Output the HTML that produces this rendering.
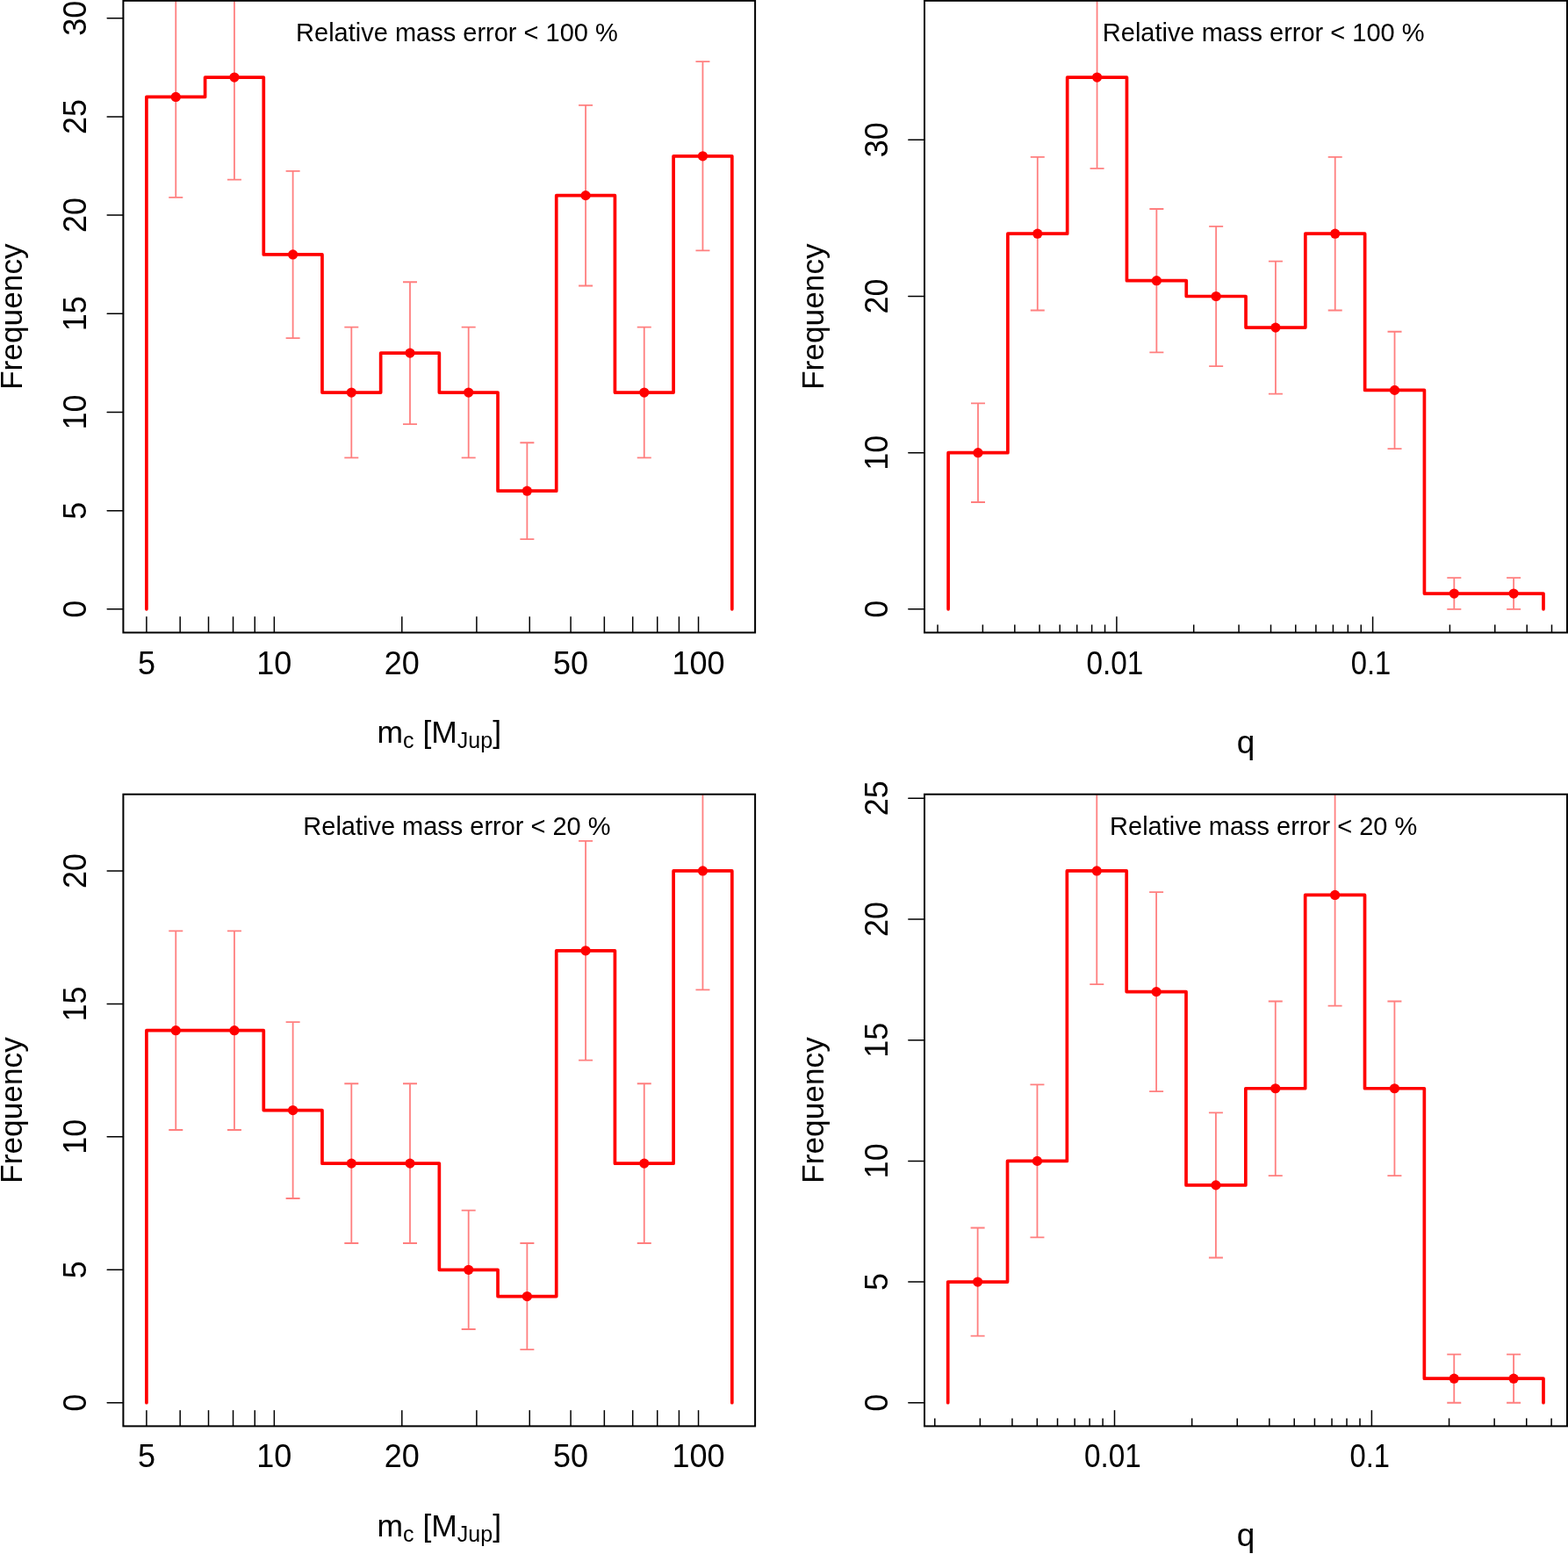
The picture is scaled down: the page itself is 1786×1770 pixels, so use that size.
<!DOCTYPE html>
<html><head><meta charset="utf-8"><title>Histograms</title>
<style>
html,body{margin:0;padding:0;background:#fff;}
body{width:1786px;height:1770px;overflow:hidden;}
svg{display:block;}
</style></head><body>
<svg width="1786" height="1770" viewBox="0 0 1786 1770" font-family="'Liberation Sans', Arial, Helvetica, sans-serif" fill="#000">
<clipPath id="c0"><rect x="140.4" y="0.8" width="719.7" height="719.7"/></clipPath>
<g clip-path="url(#c0)" stroke="rgba(255,0,0,0.5)" stroke-width="1.8" fill="none">
<path d="M200.25 224.88V-3.93M192.25 224.88H208.25M192.25 -3.93H208.25"/>
<path d="M266.94 204.62V-28.55M258.94 204.62H274.94M258.94 -28.55H274.94"/>
<path d="M333.62 385.17V194.78M325.62 385.17H341.62M325.62 194.78H341.62"/>
<path d="M400.31 521.45V372.62M392.31 521.45H408.31M392.31 372.62H408.31"/>
<path d="M467 483.06V321.26M459 483.06H475M459 321.26H475"/>
<path d="M533.69 521.45V372.62M525.69 521.45H541.69M525.69 372.62H541.69"/>
<path d="M600.38 614.18V504.26M592.38 614.18H608.38M592.38 504.26H608.38"/>
<path d="M667.07 325.48V119.84M659.07 325.48H675.07M659.07 119.84H675.07"/>
<path d="M733.76 521.45V372.62M725.76 521.45H741.76M725.76 372.62H741.76"/>
<path d="M800.45 285.39V70.18M792.45 285.39H808.45M792.45 70.18H808.45"/>
</g>
<path d="M166.9 693.84V110.47H233.59V88.04H300.28V289.97H366.97V447.03H433.66V402.16H500.35V447.03H567.04V559.22H633.73V222.66H700.42V447.03H767.11V177.79H833.8V693.84" stroke="#ff0000" stroke-width="3.7" fill="none" stroke-linejoin="round" stroke-linecap="round"/>
<circle cx="200.25" cy="110.47" r="5.6" fill="#ff0000"/>
<circle cx="266.94" cy="88.04" r="5.6" fill="#ff0000"/>
<circle cx="333.62" cy="289.97" r="5.6" fill="#ff0000"/>
<circle cx="400.31" cy="447.03" r="5.6" fill="#ff0000"/>
<circle cx="467" cy="402.16" r="5.6" fill="#ff0000"/>
<circle cx="533.69" cy="447.03" r="5.6" fill="#ff0000"/>
<circle cx="600.38" cy="559.22" r="5.6" fill="#ff0000"/>
<circle cx="667.07" cy="222.66" r="5.6" fill="#ff0000"/>
<circle cx="733.76" cy="447.03" r="5.6" fill="#ff0000"/>
<circle cx="800.45" cy="177.79" r="5.6" fill="#ff0000"/>
<rect x="140.4" y="0.8" width="719.7" height="719.7" fill="none" stroke="#000" stroke-width="2"/>
<line x1="122.2" y1="693.84" x2="140.4" y2="693.84" stroke="#000" stroke-width="1.5" stroke-linecap="round"/>
<text x="0" y="0" transform="translate(98.4 693.84) rotate(-90)" font-size="36" text-anchor="middle">0</text>
<line x1="122.2" y1="581.66" x2="140.4" y2="581.66" stroke="#000" stroke-width="1.5" stroke-linecap="round"/>
<text x="0" y="0" transform="translate(98.4 581.66) rotate(-90)" font-size="36" text-anchor="middle">5</text>
<line x1="122.2" y1="469.47" x2="140.4" y2="469.47" stroke="#000" stroke-width="1.5" stroke-linecap="round"/>
<text x="0" y="0" transform="translate(98.4 469.47) rotate(-90)" font-size="36" text-anchor="middle">10</text>
<line x1="122.2" y1="357.28" x2="140.4" y2="357.28" stroke="#000" stroke-width="1.5" stroke-linecap="round"/>
<text x="0" y="0" transform="translate(98.4 357.28) rotate(-90)" font-size="36" text-anchor="middle">15</text>
<line x1="122.2" y1="245.1" x2="140.4" y2="245.1" stroke="#000" stroke-width="1.5" stroke-linecap="round"/>
<text x="0" y="0" transform="translate(98.4 245.1) rotate(-90)" font-size="36" text-anchor="middle">20</text>
<line x1="122.2" y1="132.91" x2="140.4" y2="132.91" stroke="#000" stroke-width="1.5" stroke-linecap="round"/>
<text x="0" y="0" transform="translate(98.4 132.91) rotate(-90)" font-size="36" text-anchor="middle">25</text>
<line x1="122.2" y1="20.72" x2="140.4" y2="20.72" stroke="#000" stroke-width="1.5" stroke-linecap="round"/>
<text x="0" y="0" transform="translate(98.4 20.72) rotate(-90)" font-size="36" text-anchor="middle">30</text>
<line x1="166.9" y1="720.5" x2="166.9" y2="702.3" stroke="#000" stroke-width="1.5" stroke-linecap="butt"/>
<text x="166.9" y="767.5" font-size="36" text-anchor="middle">5</text>
<line x1="205.16" y1="720.5" x2="205.16" y2="702.3" stroke="#000" stroke-width="1.5" stroke-linecap="butt"/>
<line x1="237.51" y1="720.5" x2="237.51" y2="702.3" stroke="#000" stroke-width="1.5" stroke-linecap="butt"/>
<line x1="265.53" y1="720.5" x2="265.53" y2="702.3" stroke="#000" stroke-width="1.5" stroke-linecap="butt"/>
<line x1="290.24" y1="720.5" x2="290.24" y2="702.3" stroke="#000" stroke-width="1.5" stroke-linecap="butt"/>
<line x1="312.35" y1="720.5" x2="312.35" y2="702.3" stroke="#000" stroke-width="1.5" stroke-linecap="butt"/>
<text x="312.35" y="767.5" font-size="36" text-anchor="middle">10</text>
<line x1="457.81" y1="720.5" x2="457.81" y2="702.3" stroke="#000" stroke-width="1.5" stroke-linecap="butt"/>
<text x="457.81" y="767.5" font-size="36" text-anchor="middle">20</text>
<line x1="542.89" y1="720.5" x2="542.89" y2="702.3" stroke="#000" stroke-width="1.5" stroke-linecap="butt"/>
<line x1="603.26" y1="720.5" x2="603.26" y2="702.3" stroke="#000" stroke-width="1.5" stroke-linecap="butt"/>
<line x1="650.09" y1="720.5" x2="650.09" y2="702.3" stroke="#000" stroke-width="1.5" stroke-linecap="butt"/>
<text x="650.09" y="767.5" font-size="36" text-anchor="middle">50</text>
<line x1="688.35" y1="720.5" x2="688.35" y2="702.3" stroke="#000" stroke-width="1.5" stroke-linecap="butt"/>
<line x1="720.69" y1="720.5" x2="720.69" y2="702.3" stroke="#000" stroke-width="1.5" stroke-linecap="butt"/>
<line x1="748.72" y1="720.5" x2="748.72" y2="702.3" stroke="#000" stroke-width="1.5" stroke-linecap="butt"/>
<line x1="773.43" y1="720.5" x2="773.43" y2="702.3" stroke="#000" stroke-width="1.5" stroke-linecap="butt"/>
<line x1="795.54" y1="720.5" x2="795.54" y2="702.3" stroke="#000" stroke-width="1.5" stroke-linecap="butt"/>
<text x="795.54" y="767.5" font-size="36" text-anchor="middle">100</text>
<text x="0" y="0" transform="translate(25.3 360.65) rotate(-90)" font-size="35.3" text-anchor="middle">Frequency</text>
<text x="520.45" y="47.1" font-size="29.8" text-anchor="middle" textLength="366.7" lengthAdjust="spacingAndGlyphs">Relative mass error &lt; 100 %</text>
<text x="500.25" y="845.7" font-size="35.5" text-anchor="middle">m<tspan font-size="25" dy="6.5">c</tspan><tspan dy="-6.5"> [M</tspan><tspan font-size="25" dy="6.5">Jup</tspan><tspan dy="-6.5">]</tspan></text>
<clipPath id="c1"><rect x="1053" y="0.8" width="732" height="719.7"/></clipPath>
<g clip-path="url(#c1)" stroke="rgba(255,0,0,0.5)" stroke-width="1.8" fill="none">
<path d="M1113.99 572.01V459.32M1105.99 572.01H1121.99M1105.99 459.32H1121.99"/>
<path d="M1181.78 353.5V178.93M1173.78 353.5H1189.78M1173.78 178.93H1189.78"/>
<path d="M1249.57 191.93V-15.86M1241.57 191.93H1257.57M1241.57 -15.86H1257.57"/>
<path d="M1317.37 401.32V238.02M1309.37 401.32H1325.37M1309.37 238.02H1325.37"/>
<path d="M1385.15 417.17V257.8M1377.15 417.17H1393.15M1377.15 257.8H1393.15"/>
<path d="M1452.94 448.72V297.53M1444.94 448.72H1460.94M1444.94 297.53H1460.94"/>
<path d="M1520.73 353.5V178.93M1512.73 353.5H1528.73M1512.73 178.93H1528.73"/>
<path d="M1588.53 511.06V377.73M1580.53 511.06H1596.53M1580.53 377.73H1596.53"/>
<path d="M1656.32 693.84V658.21M1648.32 693.84H1664.32M1648.32 658.21H1664.32"/>
<path d="M1724.11 693.84V658.21M1716.11 693.84H1732.11M1716.11 658.21H1732.11"/>
</g>
<path d="M1080.1 693.84V515.67H1147.89V266.22H1215.68V88.04H1283.47V319.67H1351.26V337.49H1419.05V373.12H1486.84V266.22H1554.63V444.39H1622.42V676.03H1690.21V676.03H1758V693.84" stroke="#ff0000" stroke-width="3.7" fill="none" stroke-linejoin="round" stroke-linecap="round"/>
<circle cx="1113.99" cy="515.67" r="5.6" fill="#ff0000"/>
<circle cx="1181.78" cy="266.22" r="5.6" fill="#ff0000"/>
<circle cx="1249.57" cy="88.04" r="5.6" fill="#ff0000"/>
<circle cx="1317.37" cy="319.67" r="5.6" fill="#ff0000"/>
<circle cx="1385.15" cy="337.49" r="5.6" fill="#ff0000"/>
<circle cx="1452.94" cy="373.12" r="5.6" fill="#ff0000"/>
<circle cx="1520.73" cy="266.22" r="5.6" fill="#ff0000"/>
<circle cx="1588.53" cy="444.39" r="5.6" fill="#ff0000"/>
<circle cx="1656.32" cy="676.03" r="5.6" fill="#ff0000"/>
<circle cx="1724.11" cy="676.03" r="5.6" fill="#ff0000"/>
<rect x="1053" y="0.8" width="732" height="719.7" fill="none" stroke="#000" stroke-width="2"/>
<line x1="1034.8" y1="693.84" x2="1053" y2="693.84" stroke="#000" stroke-width="1.5" stroke-linecap="round"/>
<text x="0" y="0" transform="translate(1011 693.84) rotate(-90)" font-size="36" text-anchor="middle">0</text>
<line x1="1034.8" y1="515.67" x2="1053" y2="515.67" stroke="#000" stroke-width="1.5" stroke-linecap="round"/>
<text x="0" y="0" transform="translate(1011 515.67) rotate(-90)" font-size="36" text-anchor="middle">10</text>
<line x1="1034.8" y1="337.49" x2="1053" y2="337.49" stroke="#000" stroke-width="1.5" stroke-linecap="round"/>
<text x="0" y="0" transform="translate(1011 337.49) rotate(-90)" font-size="36" text-anchor="middle">20</text>
<line x1="1034.8" y1="159.31" x2="1053" y2="159.31" stroke="#000" stroke-width="1.5" stroke-linecap="round"/>
<text x="0" y="0" transform="translate(1011 159.31) rotate(-90)" font-size="36" text-anchor="middle">30</text>
<line x1="1068.01" y1="720.5" x2="1068.01" y2="711.5" stroke="#000" stroke-width="1.5" stroke-linecap="butt"/>
<line x1="1119.38" y1="720.5" x2="1119.38" y2="711.5" stroke="#000" stroke-width="1.5" stroke-linecap="butt"/>
<line x1="1155.82" y1="720.5" x2="1155.82" y2="711.5" stroke="#000" stroke-width="1.5" stroke-linecap="butt"/>
<line x1="1184.09" y1="720.5" x2="1184.09" y2="711.5" stroke="#000" stroke-width="1.5" stroke-linecap="butt"/>
<line x1="1207.19" y1="720.5" x2="1207.19" y2="711.5" stroke="#000" stroke-width="1.5" stroke-linecap="butt"/>
<line x1="1226.72" y1="720.5" x2="1226.72" y2="711.5" stroke="#000" stroke-width="1.5" stroke-linecap="butt"/>
<line x1="1243.63" y1="720.5" x2="1243.63" y2="711.5" stroke="#000" stroke-width="1.5" stroke-linecap="butt"/>
<line x1="1258.55" y1="720.5" x2="1258.55" y2="711.5" stroke="#000" stroke-width="1.5" stroke-linecap="butt"/>
<line x1="1271.9" y1="720.5" x2="1271.9" y2="702.3" stroke="#000" stroke-width="1.5" stroke-linecap="butt"/>
<line x1="1359.71" y1="720.5" x2="1359.71" y2="711.5" stroke="#000" stroke-width="1.5" stroke-linecap="butt"/>
<line x1="1411.08" y1="720.5" x2="1411.08" y2="711.5" stroke="#000" stroke-width="1.5" stroke-linecap="butt"/>
<line x1="1447.52" y1="720.5" x2="1447.52" y2="711.5" stroke="#000" stroke-width="1.5" stroke-linecap="butt"/>
<line x1="1475.79" y1="720.5" x2="1475.79" y2="711.5" stroke="#000" stroke-width="1.5" stroke-linecap="butt"/>
<line x1="1498.89" y1="720.5" x2="1498.89" y2="711.5" stroke="#000" stroke-width="1.5" stroke-linecap="butt"/>
<line x1="1518.42" y1="720.5" x2="1518.42" y2="711.5" stroke="#000" stroke-width="1.5" stroke-linecap="butt"/>
<line x1="1535.33" y1="720.5" x2="1535.33" y2="711.5" stroke="#000" stroke-width="1.5" stroke-linecap="butt"/>
<line x1="1550.25" y1="720.5" x2="1550.25" y2="711.5" stroke="#000" stroke-width="1.5" stroke-linecap="butt"/>
<line x1="1563.6" y1="720.5" x2="1563.6" y2="702.3" stroke="#000" stroke-width="1.5" stroke-linecap="butt"/>
<line x1="1651.41" y1="720.5" x2="1651.41" y2="711.5" stroke="#000" stroke-width="1.5" stroke-linecap="butt"/>
<line x1="1702.78" y1="720.5" x2="1702.78" y2="711.5" stroke="#000" stroke-width="1.5" stroke-linecap="butt"/>
<line x1="1739.22" y1="720.5" x2="1739.22" y2="711.5" stroke="#000" stroke-width="1.5" stroke-linecap="butt"/>
<line x1="1767.49" y1="720.5" x2="1767.49" y2="711.5" stroke="#000" stroke-width="1.5" stroke-linecap="butt"/>
<text x="1269.8" y="767.5" font-size="36" text-anchor="middle" textLength="64.8" lengthAdjust="spacingAndGlyphs">0.01</text>
<text x="1561.5" y="767.5" font-size="36" text-anchor="middle" textLength="45.5" lengthAdjust="spacingAndGlyphs">0.1</text>
<text x="0" y="0" transform="translate(937.9 360.65) rotate(-90)" font-size="35.3" text-anchor="middle">Frequency</text>
<text x="1439.2" y="47.1" font-size="29.8" text-anchor="middle" textLength="366.7" lengthAdjust="spacingAndGlyphs">Relative mass error &lt; 100 %</text>
<text x="1419" y="857.5" font-size="37" text-anchor="middle">q</text>
<clipPath id="c2"><rect x="140.4" y="904.7" width="719.7" height="719.7"/></clipPath>
<g clip-path="url(#c2)" stroke="rgba(255,0,0,0.5)" stroke-width="1.8" fill="none">
<path d="M200.25 1287.02V1060.34M192.25 1287.02H208.25M192.25 1060.34H208.25"/>
<path d="M266.94 1287.02V1060.34M258.94 1287.02H274.94M258.94 1060.34H274.94"/>
<path d="M333.62 1365.01V1164.09M325.62 1365.01H341.62M325.62 1164.09H341.62"/>
<path d="M400.31 1416V1234.26M392.31 1416H408.31M392.31 1234.26H408.31"/>
<path d="M467 1416V1234.26M459 1416H475M459 1234.26H475"/>
<path d="M533.69 1514.02V1378.56M525.69 1514.02H541.69M525.69 1378.56H541.69"/>
<path d="M600.38 1537.16V1416M592.38 1537.16H608.38M592.38 1416H608.38"/>
<path d="M667.07 1207.7V957.92M659.07 1207.7H675.07M659.07 957.92H675.07"/>
<path d="M733.76 1416V1234.26M725.76 1416H741.76M725.76 1234.26H741.76"/>
<path d="M800.45 1127.4V856.47M792.45 1127.4H808.45M792.45 856.47H808.45"/>
</g>
<path d="M166.9 1597.74V1173.68H233.59V1173.68H300.28V1264.55H366.97V1325.13H433.66V1325.13H500.35V1446.29H567.04V1476.58H633.73V1082.81H700.42V1325.13H767.11V991.94H833.8V1597.74" stroke="#ff0000" stroke-width="3.7" fill="none" stroke-linejoin="round" stroke-linecap="round"/>
<circle cx="200.25" cy="1173.68" r="5.6" fill="#ff0000"/>
<circle cx="266.94" cy="1173.68" r="5.6" fill="#ff0000"/>
<circle cx="333.62" cy="1264.55" r="5.6" fill="#ff0000"/>
<circle cx="400.31" cy="1325.13" r="5.6" fill="#ff0000"/>
<circle cx="467" cy="1325.13" r="5.6" fill="#ff0000"/>
<circle cx="533.69" cy="1446.29" r="5.6" fill="#ff0000"/>
<circle cx="600.38" cy="1476.58" r="5.6" fill="#ff0000"/>
<circle cx="667.07" cy="1082.81" r="5.6" fill="#ff0000"/>
<circle cx="733.76" cy="1325.13" r="5.6" fill="#ff0000"/>
<circle cx="800.45" cy="991.94" r="5.6" fill="#ff0000"/>
<rect x="140.4" y="904.7" width="719.7" height="719.7" fill="none" stroke="#000" stroke-width="2"/>
<line x1="122.2" y1="1597.74" x2="140.4" y2="1597.74" stroke="#000" stroke-width="1.5" stroke-linecap="round"/>
<text x="0" y="0" transform="translate(98.4 1597.74) rotate(-90)" font-size="36" text-anchor="middle">0</text>
<line x1="122.2" y1="1446.29" x2="140.4" y2="1446.29" stroke="#000" stroke-width="1.5" stroke-linecap="round"/>
<text x="0" y="0" transform="translate(98.4 1446.29) rotate(-90)" font-size="36" text-anchor="middle">5</text>
<line x1="122.2" y1="1294.84" x2="140.4" y2="1294.84" stroke="#000" stroke-width="1.5" stroke-linecap="round"/>
<text x="0" y="0" transform="translate(98.4 1294.84) rotate(-90)" font-size="36" text-anchor="middle">10</text>
<line x1="122.2" y1="1143.39" x2="140.4" y2="1143.39" stroke="#000" stroke-width="1.5" stroke-linecap="round"/>
<text x="0" y="0" transform="translate(98.4 1143.39) rotate(-90)" font-size="36" text-anchor="middle">15</text>
<line x1="122.2" y1="991.94" x2="140.4" y2="991.94" stroke="#000" stroke-width="1.5" stroke-linecap="round"/>
<text x="0" y="0" transform="translate(98.4 991.94) rotate(-90)" font-size="36" text-anchor="middle">20</text>
<line x1="166.9" y1="1624.4" x2="166.9" y2="1606.2" stroke="#000" stroke-width="1.5" stroke-linecap="butt"/>
<text x="166.9" y="1671.4" font-size="36" text-anchor="middle">5</text>
<line x1="205.16" y1="1624.4" x2="205.16" y2="1606.2" stroke="#000" stroke-width="1.5" stroke-linecap="butt"/>
<line x1="237.51" y1="1624.4" x2="237.51" y2="1606.2" stroke="#000" stroke-width="1.5" stroke-linecap="butt"/>
<line x1="265.53" y1="1624.4" x2="265.53" y2="1606.2" stroke="#000" stroke-width="1.5" stroke-linecap="butt"/>
<line x1="290.24" y1="1624.4" x2="290.24" y2="1606.2" stroke="#000" stroke-width="1.5" stroke-linecap="butt"/>
<line x1="312.35" y1="1624.4" x2="312.35" y2="1606.2" stroke="#000" stroke-width="1.5" stroke-linecap="butt"/>
<text x="312.35" y="1671.4" font-size="36" text-anchor="middle">10</text>
<line x1="457.81" y1="1624.4" x2="457.81" y2="1606.2" stroke="#000" stroke-width="1.5" stroke-linecap="butt"/>
<text x="457.81" y="1671.4" font-size="36" text-anchor="middle">20</text>
<line x1="542.89" y1="1624.4" x2="542.89" y2="1606.2" stroke="#000" stroke-width="1.5" stroke-linecap="butt"/>
<line x1="603.26" y1="1624.4" x2="603.26" y2="1606.2" stroke="#000" stroke-width="1.5" stroke-linecap="butt"/>
<line x1="650.09" y1="1624.4" x2="650.09" y2="1606.2" stroke="#000" stroke-width="1.5" stroke-linecap="butt"/>
<text x="650.09" y="1671.4" font-size="36" text-anchor="middle">50</text>
<line x1="688.35" y1="1624.4" x2="688.35" y2="1606.2" stroke="#000" stroke-width="1.5" stroke-linecap="butt"/>
<line x1="720.69" y1="1624.4" x2="720.69" y2="1606.2" stroke="#000" stroke-width="1.5" stroke-linecap="butt"/>
<line x1="748.72" y1="1624.4" x2="748.72" y2="1606.2" stroke="#000" stroke-width="1.5" stroke-linecap="butt"/>
<line x1="773.43" y1="1624.4" x2="773.43" y2="1606.2" stroke="#000" stroke-width="1.5" stroke-linecap="butt"/>
<line x1="795.54" y1="1624.4" x2="795.54" y2="1606.2" stroke="#000" stroke-width="1.5" stroke-linecap="butt"/>
<text x="795.54" y="1671.4" font-size="36" text-anchor="middle">100</text>
<text x="0" y="0" transform="translate(25.3 1264.55) rotate(-90)" font-size="35.3" text-anchor="middle">Frequency</text>
<text x="520.45" y="951" font-size="29.8" text-anchor="middle" textLength="350.2" lengthAdjust="spacingAndGlyphs">Relative mass error &lt; 20 %</text>
<text x="500.25" y="1749.6" font-size="35.5" text-anchor="middle">m<tspan font-size="25" dy="6.5">c</tspan><tspan dy="-6.5"> [M</tspan><tspan font-size="25" dy="6.5">Jup</tspan><tspan dy="-6.5">]</tspan></text>
<clipPath id="c3"><rect x="1053" y="904.7" width="732" height="719.7"/></clipPath>
<g clip-path="url(#c3)" stroke="rgba(255,0,0,0.5)" stroke-width="1.8" fill="none">
<path d="M1113.62 1521.63V1398.49M1105.62 1521.63H1121.62M1105.62 1398.49H1121.62"/>
<path d="M1181.45 1409.46V1235.3M1173.45 1409.46H1189.45M1173.45 1235.3H1189.45"/>
<path d="M1249.28 1121.1V862.78M1241.28 1121.1H1257.28M1241.28 862.78H1257.28"/>
<path d="M1317.11 1243.16V1016.08M1309.11 1243.16H1325.11M1309.11 1016.08H1325.11"/>
<path d="M1384.93 1432.52V1267.3M1376.93 1432.52H1392.93M1376.93 1267.3H1392.93"/>
<path d="M1452.77 1339.05V1140.48M1444.77 1339.05H1460.77M1444.77 1140.48H1460.77"/>
<path d="M1520.6 1145.66V893.28M1512.6 1145.66H1528.6M1512.6 893.28H1528.6"/>
<path d="M1588.42 1339.05V1140.48M1580.42 1339.05H1596.42M1580.42 1140.48H1596.42"/>
<path d="M1656.26 1597.74V1542.67M1648.26 1597.74H1664.26M1648.26 1542.67H1664.26"/>
<path d="M1724.09 1597.74V1542.67M1716.09 1597.74H1732.09M1716.09 1542.67H1732.09"/>
</g>
<path d="M1079.7 1597.74V1460.06H1147.53V1322.38H1215.36V991.94H1283.19V1129.62H1351.02V1349.91H1418.85V1239.77H1486.68V1019.47H1554.51V1239.77H1622.34V1570.21H1690.17V1570.21H1758V1597.74" stroke="#ff0000" stroke-width="3.7" fill="none" stroke-linejoin="round" stroke-linecap="round"/>
<circle cx="1113.62" cy="1460.06" r="5.6" fill="#ff0000"/>
<circle cx="1181.45" cy="1322.38" r="5.6" fill="#ff0000"/>
<circle cx="1249.28" cy="991.94" r="5.6" fill="#ff0000"/>
<circle cx="1317.11" cy="1129.62" r="5.6" fill="#ff0000"/>
<circle cx="1384.93" cy="1349.91" r="5.6" fill="#ff0000"/>
<circle cx="1452.77" cy="1239.77" r="5.6" fill="#ff0000"/>
<circle cx="1520.6" cy="1019.47" r="5.6" fill="#ff0000"/>
<circle cx="1588.42" cy="1239.77" r="5.6" fill="#ff0000"/>
<circle cx="1656.26" cy="1570.21" r="5.6" fill="#ff0000"/>
<circle cx="1724.09" cy="1570.21" r="5.6" fill="#ff0000"/>
<rect x="1053" y="904.7" width="732" height="719.7" fill="none" stroke="#000" stroke-width="2"/>
<line x1="1034.8" y1="1597.74" x2="1053" y2="1597.74" stroke="#000" stroke-width="1.5" stroke-linecap="round"/>
<text x="0" y="0" transform="translate(1011 1597.74) rotate(-90)" font-size="36" text-anchor="middle">0</text>
<line x1="1034.8" y1="1460.06" x2="1053" y2="1460.06" stroke="#000" stroke-width="1.5" stroke-linecap="round"/>
<text x="0" y="0" transform="translate(1011 1460.06) rotate(-90)" font-size="36" text-anchor="middle">5</text>
<line x1="1034.8" y1="1322.38" x2="1053" y2="1322.38" stroke="#000" stroke-width="1.5" stroke-linecap="round"/>
<text x="0" y="0" transform="translate(1011 1322.38) rotate(-90)" font-size="36" text-anchor="middle">10</text>
<line x1="1034.8" y1="1184.69" x2="1053" y2="1184.69" stroke="#000" stroke-width="1.5" stroke-linecap="round"/>
<text x="0" y="0" transform="translate(1011 1184.69) rotate(-90)" font-size="36" text-anchor="middle">15</text>
<line x1="1034.8" y1="1047.01" x2="1053" y2="1047.01" stroke="#000" stroke-width="1.5" stroke-linecap="round"/>
<text x="0" y="0" transform="translate(1011 1047.01) rotate(-90)" font-size="36" text-anchor="middle">20</text>
<line x1="1034.8" y1="909.33" x2="1053" y2="909.33" stroke="#000" stroke-width="1.5" stroke-linecap="round"/>
<text x="0" y="0" transform="translate(1011 909.33) rotate(-90)" font-size="36" text-anchor="middle">25</text>
<line x1="1064.77" y1="1624.4" x2="1064.77" y2="1615.4" stroke="#000" stroke-width="1.5" stroke-linecap="butt"/>
<line x1="1116.35" y1="1624.4" x2="1116.35" y2="1615.4" stroke="#000" stroke-width="1.5" stroke-linecap="butt"/>
<line x1="1152.94" y1="1624.4" x2="1152.94" y2="1615.4" stroke="#000" stroke-width="1.5" stroke-linecap="butt"/>
<line x1="1181.33" y1="1624.4" x2="1181.33" y2="1615.4" stroke="#000" stroke-width="1.5" stroke-linecap="butt"/>
<line x1="1204.52" y1="1624.4" x2="1204.52" y2="1615.4" stroke="#000" stroke-width="1.5" stroke-linecap="butt"/>
<line x1="1224.13" y1="1624.4" x2="1224.13" y2="1615.4" stroke="#000" stroke-width="1.5" stroke-linecap="butt"/>
<line x1="1241.12" y1="1624.4" x2="1241.12" y2="1615.4" stroke="#000" stroke-width="1.5" stroke-linecap="butt"/>
<line x1="1256.1" y1="1624.4" x2="1256.1" y2="1615.4" stroke="#000" stroke-width="1.5" stroke-linecap="butt"/>
<line x1="1269.5" y1="1624.4" x2="1269.5" y2="1606.2" stroke="#000" stroke-width="1.5" stroke-linecap="butt"/>
<line x1="1357.67" y1="1624.4" x2="1357.67" y2="1615.4" stroke="#000" stroke-width="1.5" stroke-linecap="butt"/>
<line x1="1409.25" y1="1624.4" x2="1409.25" y2="1615.4" stroke="#000" stroke-width="1.5" stroke-linecap="butt"/>
<line x1="1445.84" y1="1624.4" x2="1445.84" y2="1615.4" stroke="#000" stroke-width="1.5" stroke-linecap="butt"/>
<line x1="1474.23" y1="1624.4" x2="1474.23" y2="1615.4" stroke="#000" stroke-width="1.5" stroke-linecap="butt"/>
<line x1="1497.42" y1="1624.4" x2="1497.42" y2="1615.4" stroke="#000" stroke-width="1.5" stroke-linecap="butt"/>
<line x1="1517.03" y1="1624.4" x2="1517.03" y2="1615.4" stroke="#000" stroke-width="1.5" stroke-linecap="butt"/>
<line x1="1534.02" y1="1624.4" x2="1534.02" y2="1615.4" stroke="#000" stroke-width="1.5" stroke-linecap="butt"/>
<line x1="1549" y1="1624.4" x2="1549" y2="1615.4" stroke="#000" stroke-width="1.5" stroke-linecap="butt"/>
<line x1="1562.4" y1="1624.4" x2="1562.4" y2="1606.2" stroke="#000" stroke-width="1.5" stroke-linecap="butt"/>
<line x1="1650.57" y1="1624.4" x2="1650.57" y2="1615.4" stroke="#000" stroke-width="1.5" stroke-linecap="butt"/>
<line x1="1702.15" y1="1624.4" x2="1702.15" y2="1615.4" stroke="#000" stroke-width="1.5" stroke-linecap="butt"/>
<line x1="1738.74" y1="1624.4" x2="1738.74" y2="1615.4" stroke="#000" stroke-width="1.5" stroke-linecap="butt"/>
<line x1="1767.13" y1="1624.4" x2="1767.13" y2="1615.4" stroke="#000" stroke-width="1.5" stroke-linecap="butt"/>
<text x="1267.4" y="1671.4" font-size="36" text-anchor="middle" textLength="64.8" lengthAdjust="spacingAndGlyphs">0.01</text>
<text x="1560.3" y="1671.4" font-size="36" text-anchor="middle" textLength="45.5" lengthAdjust="spacingAndGlyphs">0.1</text>
<text x="0" y="0" transform="translate(937.9 1264.55) rotate(-90)" font-size="35.3" text-anchor="middle">Frequency</text>
<text x="1439.2" y="951" font-size="29.8" text-anchor="middle" textLength="350.2" lengthAdjust="spacingAndGlyphs">Relative mass error &lt; 20 %</text>
<text x="1419" y="1761.4" font-size="37" text-anchor="middle">q</text>
</svg>
</body></html>
